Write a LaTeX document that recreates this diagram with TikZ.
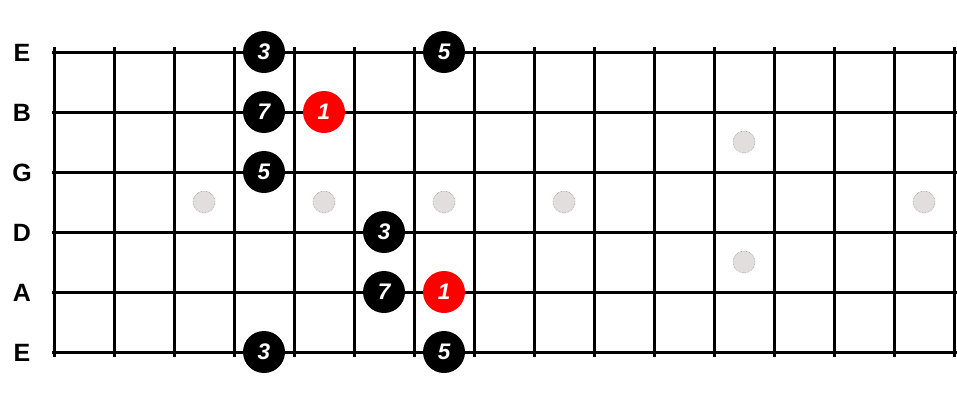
\documentclass[tikz,border=0pt]{standalone}
\usepackage{fontspec}
\setmainfont{Liberation Sans}
\usetikzlibrary{positioning}
\definecolor{fbBlack}{RGB}{0,0,0}
\definecolor{fbRoot}{RGB}{255,0,0}
\definecolor{fbInlay}{RGB}{226,222,222}
\definecolor{fbRim}{RGB}{150,150,150}
\newcommand{\tuningfont}{\fontsize{25pt}{25pt}\selectfont\bfseries}
\newcommand{\degreefont}{\fontsize{22.5pt}{22.5pt}\selectfont\bfseries\itshape}
\tikzset{
    base/.style={align=center},
    wire/.style={line width=3pt, color=fbBlack},
    fret/.style={line width=3pt, color=fbBlack},
    tuning/.style={base, font=\tuningfont, text=fbBlack, inner sep=0pt},
    degree/.style={base, circle, fill=fbBlack, text=white, inner sep=0pt, minimum size=42pt,
                   font=\degreefont},
    root/.style={degree, fill=fbRoot},
    inlay/.style={circle, fill=fbInlay, draw=fbRim, densely dotted, line width=0.6pt,
                  inner sep=0pt, minimum size=22pt}
}
\begin{document}
\begin{tikzpicture}[x=1pt, y=-1pt]
  \useasboundingbox (0,0) rectangle (957,400);

  % Frets
  \foreach \f in {0,...,15}
    \draw[fret] ({54+60*\f},47) -- ({54+60*\f},357);

  % Strings and tuning
  \foreach \s/\n [count=\j from 0] in {e/E,b/B,g/G,d/D,a/A,low/E} {
    \node[tuning] (t\s) at (22,{53+60*\j}) {\n};
    \coordinate (s\s) at (957,{52+60*\j});
    \draw[wire] (52,{52+60*\j}) -- (s\s);
  }

  % Position markers
  \foreach \x/\y [count=\k] in {204/202,324/202,444/202,564/202,744/142,744/262,924/202}
    \node[inlay] (dot\k) at (\x,\y) {};

  % Chord tones
  \node[degree] (e3) at (264,52) {3};
  \node[degree] (e5) at (444,52) {5};
  \node[degree] (b7) at (264,112) {7};
  \node[root]   (b1) at (324,112) {1};
  \node[degree] (g5) at (264,172) {5};
  \node[degree] (d3) at (384,232) {3};
  \node[degree] (a7) at (384,292) {7};
  \node[root]   (a1) at (444,292) {1};
  \node[degree] (low3) at (264,352) {3};
  \node[degree] (low5) at (444,352) {5};
\end{tikzpicture}
\end{document}
